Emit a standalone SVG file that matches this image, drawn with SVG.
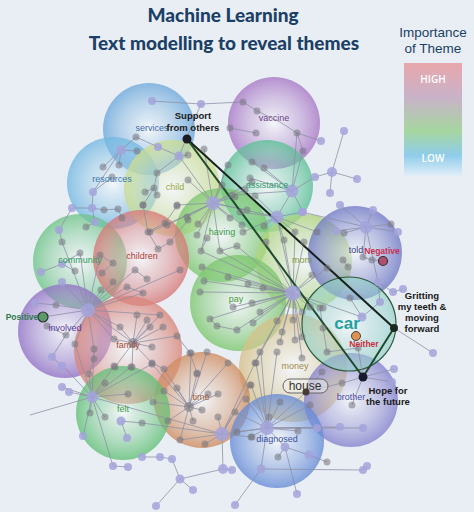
<svg xmlns="http://www.w3.org/2000/svg" width="474" height="512" viewBox="0 0 474 512">
<style>
.ttl{font-family:Lato,"Open Sans","Liberation Sans",sans-serif;font-weight:900;fill:#1b3f66;text-anchor:middle}
.leg{font-family:"Liberation Sans",Arial,sans-serif;fill:#1b3f66;text-anchor:middle;font-size:13.5px}
.legw{font-family:"Open Sans","Liberation Sans",sans-serif;fill:#ffffff;text-anchor:middle;font-size:10px;font-weight:600}
.lb{font-family:"Liberation Sans",Arial,sans-serif;font-size:9px;text-anchor:middle}
.ann{font-family:"Liberation Sans",Arial,sans-serif;font-size:9.5px;font-weight:700;fill:#1a1a1a;text-anchor:middle}
.edge{stroke:#8b8ea3;stroke-width:0.9;fill:none;opacity:0.85}
.g{fill:#74747e;opacity:0.55}
.l{fill:#a3a3da;opacity:0.85}
.bub{stroke:none}
</style>
<defs>
<radialGradient id="gBlue"><stop offset="0" stop-color="#fff" stop-opacity="0.5"/><stop offset="0.55" stop-color="#7db4e0" stop-opacity="0.42"/><stop offset="1" stop-color="#6fa9dc" stop-opacity="0.8"/></radialGradient>
<radialGradient id="gLBlue"><stop offset="0" stop-color="#fff" stop-opacity="0.5"/><stop offset="0.55" stop-color="#82c0e4" stop-opacity="0.42"/><stop offset="1" stop-color="#74b8e2" stop-opacity="0.8"/></radialGradient>
<radialGradient id="gPurple"><stop offset="0" stop-color="#fff" stop-opacity="0.5"/><stop offset="0.55" stop-color="#b287cc" stop-opacity="0.42"/><stop offset="1" stop-color="#a878c6" stop-opacity="0.8"/></radialGradient>
<radialGradient id="gYGreen"><stop offset="0" stop-color="#fff" stop-opacity="0.5"/><stop offset="0.55" stop-color="#d4e4a0" stop-opacity="0.45"/><stop offset="1" stop-color="#c9dc90" stop-opacity="0.8"/></radialGradient>
<radialGradient id="gTeal"><stop offset="0" stop-color="#fff" stop-opacity="0.5"/><stop offset="0.55" stop-color="#6ccaa2" stop-opacity="0.42"/><stop offset="1" stop-color="#5cc196" stop-opacity="0.8"/></radialGradient>
<radialGradient id="gGreen"><stop offset="0" stop-color="#fff" stop-opacity="0.5"/><stop offset="0.55" stop-color="#8ccf7f" stop-opacity="0.45"/><stop offset="1" stop-color="#7cc76e" stop-opacity="0.8"/></radialGradient>
<radialGradient id="gCGreen"><stop offset="0" stop-color="#fff" stop-opacity="0.5"/><stop offset="0.55" stop-color="#7fcc95" stop-opacity="0.42"/><stop offset="1" stop-color="#6fc488" stop-opacity="0.8"/></radialGradient>
<radialGradient id="gRed"><stop offset="0" stop-color="#fff" stop-opacity="0.5"/><stop offset="0.55" stop-color="#de8a8a" stop-opacity="0.42"/><stop offset="1" stop-color="#d77878" stop-opacity="0.8"/></radialGradient>
<radialGradient id="gMGreen"><stop offset="0" stop-color="#fff" stop-opacity="0.5"/><stop offset="0.55" stop-color="#bcdc8e" stop-opacity="0.45"/><stop offset="1" stop-color="#b0d47e" stop-opacity="0.8"/></radialGradient>
<radialGradient id="gIndigo"><stop offset="0" stop-color="#fff" stop-opacity="0.5"/><stop offset="0.55" stop-color="#8088cc" stop-opacity="0.42"/><stop offset="1" stop-color="#727ac6" stop-opacity="0.8"/></radialGradient>
<radialGradient id="gCar"><stop offset="0" stop-color="#fff" stop-opacity="0.55"/><stop offset="0.55" stop-color="#9fd6cf" stop-opacity="0.4"/><stop offset="1" stop-color="#8fcfc5" stop-opacity="0.65"/></radialGradient>
<radialGradient id="gViolet"><stop offset="0" stop-color="#fff" stop-opacity="0.5"/><stop offset="0.55" stop-color="#9e80cc" stop-opacity="0.42"/><stop offset="1" stop-color="#9272c6" stop-opacity="0.8"/></radialGradient>
<radialGradient id="gSalmon"><stop offset="0" stop-color="#fff" stop-opacity="0.5"/><stop offset="0.55" stop-color="#e0958a" stop-opacity="0.42"/><stop offset="1" stop-color="#d9857a" stop-opacity="0.8"/></radialGradient>
<radialGradient id="gBeige"><stop offset="0" stop-color="#fff" stop-opacity="0.5"/><stop offset="0.55" stop-color="#dfcc98" stop-opacity="0.45"/><stop offset="1" stop-color="#d6c088" stop-opacity="0.8"/></radialGradient>
<radialGradient id="gOrange"><stop offset="0" stop-color="#fff" stop-opacity="0.5"/><stop offset="0.55" stop-color="#d89b72" stop-opacity="0.42"/><stop offset="1" stop-color="#cf8c60" stop-opacity="0.8"/></radialGradient>
<radialGradient id="gFGreen"><stop offset="0" stop-color="#fff" stop-opacity="0.5"/><stop offset="0.55" stop-color="#72c986" stop-opacity="0.42"/><stop offset="1" stop-color="#62c078" stop-opacity="0.8"/></radialGradient>
<radialGradient id="gBrother"><stop offset="0" stop-color="#fff" stop-opacity="0.5"/><stop offset="0.55" stop-color="#9491d4" stop-opacity="0.42"/><stop offset="1" stop-color="#8682ce" stop-opacity="0.8"/></radialGradient>
<radialGradient id="gDBlue"><stop offset="0" stop-color="#fff" stop-opacity="0.5"/><stop offset="0.55" stop-color="#7599dc" stop-opacity="0.42"/><stop offset="1" stop-color="#668cd6" stop-opacity="0.8"/></radialGradient>
<linearGradient id="legGrad" x1="0" y1="0" x2="0" y2="1">
<stop offset="0" stop-color="#e8a7ab"/><stop offset="0.3" stop-color="#c9b2c9"/><stop offset="0.6" stop-color="#a6d6a0"/><stop offset="0.82" stop-color="#8fcdeb"/><stop offset="1" stop-color="#e2eef8"/>
</linearGradient>
</defs>
<rect width="474" height="512" fill="#e9eef4"/>
<text class="ttl" x="223" y="22" font-size="19">Machine Learning</text>
<text class="ttl" x="224" y="50" font-size="19">Text modelling to reveal themes</text>
<g id="legend">
<text class="leg" x="433" y="37">Importance</text>
<text class="leg" x="433" y="53">of Theme</text>
<rect x="404" y="63" width="58" height="113" fill="url(#legGrad)"/>
<text class="legw" x="433" y="83">HIGH</text>
<text class="legw" x="433" y="162">LOW</text>
</g>
<g id="themes">
<g id="t-services"><circle class="bub" cx="149" cy="129" r="46" fill="url(#gBlue)"/></g>
<g id="t-vaccine"><circle class="bub" cx="274" cy="123" r="46" fill="url(#gPurple)"/></g>
<g id="t-resources"><circle class="bub" cx="113" cy="183" r="46" fill="url(#gLBlue)"/></g>
<g id="t-child"><circle class="bub" cx="172" cy="188" r="48" fill="url(#gYGreen)"/></g>
<g id="t-assistance"><circle class="bub" cx="267" cy="186" r="46" fill="url(#gTeal)"/></g>
<g id="t-having"><circle class="bub" cx="222" cy="235" r="47" fill="url(#gGreen)"/></g>
<g id="t-community"><circle class="bub" cx="80" cy="261" r="47" fill="url(#gCGreen)"/></g>
<g id="t-children"><circle class="bub" cx="141" cy="258" r="48" fill="url(#gRed)"/></g>
<g id="t-mom"><circle class="bub" cx="304" cy="262" r="48" fill="url(#gMGreen)"/></g>
<g id="t-told"><circle class="bub" cx="355" cy="253" r="47" fill="url(#gIndigo)"/></g>
<g id="t-pay"><circle class="bub" cx="238" cy="303" r="48" fill="url(#gGreen)"/></g>
<g id="t-involved"><circle class="bub" cx="65" cy="331" r="47" fill="url(#gViolet)"/></g>
<g id="t-family"><circle class="bub" cx="128" cy="350" r="54" fill="url(#gSalmon)"/></g>
<g id="t-money"><circle class="bub" cx="293" cy="368" r="54" fill="url(#gBeige)"/></g>
<g id="t-time"><circle class="bub" cx="202" cy="400" r="48" fill="url(#gOrange)"/></g>
<g id="t-felt"><circle class="bub" cx="123" cy="413" r="47" fill="url(#gFGreen)"/></g>
<g id="t-brother"><circle class="bub" cx="351" cy="400" r="47" fill="url(#gBrother)"/></g>
<g id="t-diagnosed"><circle class="bub" cx="277" cy="441" r="47" fill="url(#gDBlue)"/></g>
<g id="t-car"><circle cx="349" cy="324" r="47" fill="url(#gCar)" stroke="#2f5a3c" stroke-width="1.2"/></g>
</g>
<g id="connectors">
<path class="edge" d="M152,101L201,104L243,102L257,111L280,122L297,133L321,141 M230,128L256,133 M297,133L303,151 M297,133L292,191 M201,104L179,156 M344,131L332,172L357,179 M332,172L330,193 M332,172L315,177L292,191
M292,191L277,217 M292,191L303,151 M292,191L252,162 M292,191L264,168 M292,191L232,195 M292,191L250,178 M292,191L303,212
M277,217L240,212 M277,217L255,196 M277,217L264,226 M277,217L284,240 M277,217L295,232 M277,217L317,232 M277,217L243,232 M277,217L302,212 M277,217L213,203
M121,150L136,137 M121,150L137,151 M121,150L103,167 M121,150L119,165 M121,150L93,192 M136,137L158,147L179,156L188,155 M179,156L157,173L154,188L145,192 M154,188L143,205 M154,188L157,195 M112,177L93,192L92,208L72,208 M92,208L104,210L118,209L122,218 M92,208L95,222L86,227 M72,208L59,230
M213,203L188,180 M213,203L177,205 M213,203L187,217 M213,203L198,224 M213,203L228,165 M213,203L222,185 M213,203L235,197 M213,203L245,190 M213,203L247,210 M213,203L242,225 M213,203L230,218 M213,203L197,235 M213,203L204,149 M213,203L167,225 M213,203L252,182 M213,203L220,251 M213,203L201,251 M213,203L179,156 M213,203L150,232
M59,230L62,242L88,310 M88,310L80,253 M88,310L62,282 M88,310L100,255 M88,310L113,282 M88,310L101,290 M88,310L143,293 M88,310L135,270 M88,310L56,305 M88,310L43,317 M88,310L66,335 M88,310L94,349 M88,310L114,339 M88,310L133,343 M88,310L160,315 M88,310L75,344 M88,310L120,327 M88,310L127,287 M88,310L180,270
M62,264L75,271 M62,264L41,272 M62,264L80,253 M100,255L113,263L102,273 M135,270L147,279 M143,293L127,287 M143,205L148,232L165,223L177,206 M148,232L158,249L170,242L188,220 M35,303L56,305 M47,326L66,335L52,357L62,366 M94,349L94,359L89,374
M133,343L120,327 M133,343L137,315 M133,343L147,320 M133,343L160,315 M133,343L163,327 M133,343L150,327 M133,343L152,347 M133,343L177,336 M133,343L114,339 M133,343L115,367 M133,343L132,367 M133,343L152,363L164,369 M177,336L190,353L197,373
M92,397L75,344 M92,397L94,350 M92,397L89,375 M92,397L105,383 M92,397L114,366 M92,397L131,367 M92,397L128,394 M92,397L90,413 M92,397L105,417 M92,397L62,387 M92,397L69,392 M92,397L62,365 M92,397L83,436 M92,397L113,466 M92,397L222,434 M92,397L30,415 M92,397L152,364
M121,421L142,423 M121,421L127,438 M113,466L128,467 M142,457L160,457L172,459L180,479L193,490 M180,479L156,506 M180,479L223,469L232,470 M223,469L222,434
M189,407L152,364 M189,407L164,369 M189,407L191,353 M189,407L207,352 M189,407L197,374 M189,407L177,388 M189,407L208,394 M189,407L218,394 M189,407L202,410 M189,407L193,421 M189,407L168,421 M189,407L180,440 M189,407L153,402 M189,407L164,391 M189,407L228,363
M222,434L205,444 M222,434L235,412 M222,434L218,417 M222,434L250,385 M222,434L260,352 M222,434L267,428 M222,434L252,437 M222,434L180,440 M222,434L142,423
M267,428L237,432 M267,428L251,437 M267,428L285,447 M267,428L298,431 M267,428L317,428 M267,428L340,427 M267,428L363,428 M267,428L261,469 M267,428L269,417 M267,428L280,402 M267,428L251,385 M267,428L246,399 M267,428L235,412 M267,428L256,363 M267,428L261,352 M267,428L277,352 M267,428L306,392 M267,428L310,405
M285,447L278,457 M285,447L309,455L327,462 M261,469L363,470L367,466 M261,469L235,505 M285,447L297,494 M306,392L342,383 M306,392L322,372
M363,377L394,369 M363,377L392,382 M363,377L342,383 M363,377L358,348 M363,377L352,405
M293,293L277,217 M293,293L284,240 M293,293L266,242 M293,293L237,246 M293,293L220,251 M293,293L201,251 M293,293L202,267 M293,293L204,281 M293,293L200,292 M293,293L228,277 M293,293L248,284 M293,293L263,288 M293,293L252,303 M293,293L233,307 M293,293L260,312 M293,293L210,319 M293,293L237,330 M293,293L253,323 M293,293L277,321 M293,293L282,332 M293,293L293,320 M293,293L302,312 M293,293L310,307 M293,293L323,308 M293,293L312,275 M293,293L327,268 M293,293L304,242 M293,293L295,232 M293,293L260,352 M293,293L280,342 M293,293L295,340 M293,293L302,337 M293,293L255,363 M293,293L302,358 M293,293L362,317
M210,319L217,326L237,330 M201,251L207,238 M220,251L237,246
M366,227L340,205 M366,227L373,210 M366,227L391,224 M366,227L398,232 M366,227L344,233 M366,227L336,231 M366,227L363,257 M366,227L302,212 M366,227L378,282
M343,260L348,267 M363,257L372,260L383,261 M378,282L393,292L403,289 M378,282L380,302L362,317L350,298 M320,308L323,328L327,352L358,348 M394,328L433,353"/>
<path d="M187,139L394,328" stroke="#16201a" stroke-width="2" fill="none"/>
<path d="M187,139L363,377" stroke="#1f4a2c" stroke-width="2" fill="none"/>
<path d="M394,328L363,377" stroke="#1f4a2c" stroke-width="2" fill="none"/>
</g>
<g id="graph-dots">
<circle class="l" cx="152" cy="101" r="4"/><circle class="l" cx="201" cy="104" r="4"/><circle class="g" cx="243" cy="102" r="3.5"/><circle class="g" cx="257" cy="111" r="3.5"/><circle class="g" cx="297" cy="133" r="3.5"/><circle class="l" cx="321" cy="141" r="4"/><circle class="g" cx="230" cy="128" r="3.5"/><circle class="g" cx="256" cy="133" r="3.5"/><circle class="g" cx="303" cy="151" r="3.5"/>
<circle class="l" cx="344" cy="131" r="4"/><circle class="l" cx="332" cy="172" r="5"/><circle class="l" cx="357" cy="179" r="4"/><circle class="l" cx="330" cy="193" r="4"/><circle class="l" cx="315" cy="177" r="4"/>
<circle class="l" cx="292" cy="191" r="6.5"/><circle class="l" cx="277" cy="217" r="6.5"/><circle class="g" cx="252" cy="162" r="3.5"/><circle class="g" cx="264" cy="168" r="3.5"/><circle class="g" cx="232" cy="195" r="3.5"/><circle class="g" cx="250" cy="178" r="3.5"/><circle class="l" cx="303" cy="212" r="4"/>
<circle class="g" cx="240" cy="212" r="3.5"/><circle class="g" cx="255" cy="196" r="3.5"/><circle class="g" cx="264" cy="226" r="3.5"/><circle class="g" cx="284" cy="240" r="3.5"/><circle class="g" cx="295" cy="232" r="3.5"/><circle class="g" cx="317" cy="232" r="3.5"/><circle class="g" cx="243" cy="232" r="3.5"/><circle class="l" cx="302" cy="212" r="4"/>
<circle class="l" cx="121" cy="150" r="5"/><circle class="g" cx="136" cy="137" r="3.5"/><circle class="g" cx="137" cy="151" r="3.5"/><circle class="g" cx="103" cy="167" r="3.5"/><circle class="g" cx="119" cy="165" r="3.5"/><circle class="l" cx="158" cy="147" r="4"/><circle class="l" cx="179" cy="156" r="4.5"/><circle class="g" cx="188" cy="155" r="3.5"/><circle class="g" cx="157" cy="173" r="3.5"/><circle class="g" cx="154" cy="188" r="3.5"/><circle class="g" cx="145" cy="192" r="3.5"/><circle class="g" cx="143" cy="205" r="3.5"/><circle class="g" cx="157" cy="195" r="3.5"/><circle class="g" cx="112" cy="177" r="3.5"/><circle class="l" cx="93" cy="192" r="4"/><circle class="l" cx="92" cy="208" r="4"/><circle class="l" cx="72" cy="208" r="4"/><circle class="g" cx="104" cy="210" r="3.5"/><circle class="g" cx="118" cy="209" r="3.5"/><circle class="g" cx="122" cy="218" r="3.5"/><circle class="l" cx="95" cy="222" r="4"/><circle class="g" cx="86" cy="227" r="3.5"/>
<circle class="l" cx="213" cy="203" r="7"/><circle class="g" cx="188" cy="180" r="3.5"/><circle class="g" cx="177" cy="205" r="3.5"/><circle class="g" cx="187" cy="217" r="3.5"/><circle class="g" cx="198" cy="224" r="3.5"/><circle class="g" cx="228" cy="165" r="3.5"/><circle class="g" cx="222" cy="185" r="3.5"/><circle class="g" cx="235" cy="197" r="3.5"/><circle class="g" cx="245" cy="190" r="3.5"/><circle class="g" cx="247" cy="210" r="3.5"/><circle class="g" cx="242" cy="225" r="3.5"/><circle class="g" cx="230" cy="218" r="3.5"/><circle class="g" cx="197" cy="235" r="3.5"/><circle class="g" cx="204" cy="149" r="3.5"/><circle class="g" cx="167" cy="225" r="3.5"/><circle class="g" cx="252" cy="182" r="3.5"/><circle class="g" cx="220" cy="251" r="3.5"/><circle class="g" cx="201" cy="251" r="3.5"/><circle class="g" cx="150" cy="232" r="3.5"/>
<circle class="l" cx="59" cy="230" r="4"/><circle class="g" cx="62" cy="242" r="3.5"/><circle class="g" cx="80" cy="253" r="3.5"/><circle class="l" cx="62" cy="264" r="4"/><circle class="g" cx="75" cy="271" r="3.5"/><circle class="l" cx="41" cy="272" r="4"/><circle class="l" cx="62" cy="282" r="4"/><circle class="g" cx="100" cy="255" r="3.5"/><circle class="g" cx="113" cy="263" r="3.5"/><circle class="g" cx="102" cy="273" r="3.5"/><circle class="g" cx="113" cy="282" r="3.5"/><circle class="g" cx="101" cy="290" r="3.5"/><circle class="g" cx="135" cy="270" r="3.5"/><circle class="g" cx="147" cy="279" r="3.5"/><circle class="g" cx="127" cy="287" r="3.5"/><circle class="g" cx="143" cy="293" r="3.5"/><circle class="g" cx="143" cy="205" r="3.5"/><circle class="g" cx="148" cy="232" r="3.5"/><circle class="g" cx="165" cy="223" r="3.5"/><circle class="g" cx="158" cy="249" r="3.5"/><circle class="g" cx="170" cy="242" r="3.5"/><circle class="g" cx="177" cy="206" r="3.5"/><circle class="g" cx="188" cy="220" r="3.5"/><circle class="g" cx="180" cy="270" r="3.5"/>
<circle class="l" cx="88" cy="310" r="7"/><circle class="l" cx="35" cy="303" r="4"/><circle class="g" cx="56" cy="305" r="3.5"/><circle class="g" cx="47" cy="326" r="3.5"/><circle class="g" cx="66" cy="335" r="3.5"/><circle class="l" cx="52" cy="357" r="4"/><circle class="l" cx="62" cy="366" r="4"/><circle class="g" cx="75" cy="344" r="3.5"/><circle class="g" cx="94" cy="349" r="3.5"/><circle class="g" cx="94" cy="359" r="3.5"/><circle class="g" cx="89" cy="374" r="3.5"/>
<circle class="g" cx="133" cy="343" r="5"/><circle class="g" cx="114" cy="339" r="3.5"/><circle class="g" cx="120" cy="327" r="3.5"/><circle class="g" cx="137" cy="315" r="3.5"/><circle class="g" cx="147" cy="320" r="3.5"/><circle class="g" cx="160" cy="315" r="3.5"/><circle class="g" cx="163" cy="327" r="3.5"/><circle class="g" cx="150" cy="327" r="3.5"/><circle class="g" cx="152" cy="347" r="3.5"/><circle class="g" cx="177" cy="336" r="3.5"/><circle class="g" cx="115" cy="367" r="3.5"/><circle class="g" cx="132" cy="367" r="3.5"/><circle class="g" cx="152" cy="363" r="3.5"/><circle class="g" cx="164" cy="369" r="3.5"/><circle class="g" cx="190" cy="353" r="3.5"/><circle class="g" cx="197" cy="373" r="3.5"/>
<circle class="l" cx="92" cy="397" r="6"/><circle class="g" cx="105" cy="383" r="3.5"/><circle class="g" cx="114" cy="366" r="3.5"/><circle class="g" cx="131" cy="367" r="3.5"/><circle class="g" cx="128" cy="394" r="3.5"/><circle class="g" cx="90" cy="413" r="3.5"/><circle class="g" cx="105" cy="417" r="3.5"/><circle class="l" cx="62" cy="387" r="4"/><circle class="l" cx="69" cy="392" r="4"/><circle class="l" cx="83" cy="436" r="4"/><circle class="l" cx="121" cy="421" r="4.5"/><circle class="l" cx="127" cy="438" r="4"/><circle class="g" cx="142" cy="423" r="3.5"/><circle class="l" cx="113" cy="466" r="4"/><circle class="l" cx="128" cy="467" r="4"/><circle class="l" cx="142" cy="457" r="4"/><circle class="l" cx="160" cy="457" r="4"/><circle class="l" cx="172" cy="459" r="4"/><circle class="l" cx="180" cy="479" r="4.5"/><circle class="l" cx="193" cy="490" r="4"/><circle class="l" cx="156" cy="506" r="4"/><circle class="l" cx="223" cy="469" r="5"/><circle class="l" cx="232" cy="470" r="4"/>
<circle class="g" cx="189" cy="407" r="5"/><circle class="g" cx="152" cy="364" r="3.5"/><circle class="g" cx="191" cy="353" r="3.5"/><circle class="g" cx="207" cy="352" r="3.5"/><circle class="g" cx="197" cy="374" r="3.5"/><circle class="g" cx="177" cy="388" r="3.5"/><circle class="g" cx="208" cy="394" r="3.5"/><circle class="g" cx="218" cy="394" r="3.5"/><circle class="g" cx="202" cy="410" r="3.5"/><circle class="g" cx="193" cy="421" r="3.5"/><circle class="g" cx="168" cy="421" r="3.5"/><circle class="g" cx="180" cy="440" r="3.5"/><circle class="g" cx="153" cy="402" r="3.5"/><circle class="g" cx="164" cy="391" r="3.5"/><circle class="g" cx="228" cy="363" r="3.5"/>
<circle class="l" cx="222" cy="434" r="7"/><circle class="g" cx="205" cy="444" r="3.5"/><circle class="g" cx="235" cy="412" r="3.5"/><circle class="g" cx="218" cy="417" r="3.5"/><circle class="g" cx="250" cy="385" r="3.5"/><circle class="g" cx="260" cy="352" r="3.5"/><circle class="g" cx="252" cy="437" r="3.5"/>
<circle class="l" cx="267" cy="428" r="7"/><circle class="g" cx="237" cy="432" r="3.5"/><circle class="g" cx="251" cy="437" r="3.5"/><circle class="l" cx="285" cy="447" r="4.5"/><circle class="g" cx="298" cy="431" r="3.5"/><circle class="l" cx="317" cy="428" r="4"/><circle class="l" cx="340" cy="427" r="4"/><circle class="l" cx="363" cy="428" r="4"/><circle class="l" cx="261" cy="469" r="4.5"/><circle class="g" cx="269" cy="417" r="3.5"/><circle class="g" cx="280" cy="402" r="3.5"/><circle class="g" cx="251" cy="385" r="3.5"/><circle class="g" cx="246" cy="399" r="3.5"/><circle class="g" cx="256" cy="363" r="3.5"/><circle class="g" cx="277" cy="352" r="3.5"/><circle class="g" cx="310" cy="405" r="3.5"/><circle class="g" cx="278" cy="457" r="3.5"/><circle class="l" cx="309" cy="455" r="4.5"/><circle class="g" cx="327" cy="462" r="3.5"/><circle class="l" cx="363" cy="470" r="4"/><circle class="l" cx="367" cy="466" r="4"/><circle class="l" cx="235" cy="505" r="4"/><circle class="l" cx="297" cy="494" r="4"/><circle class="g" cx="342" cy="383" r="3.5"/><circle class="g" cx="322" cy="372" r="3.5"/><circle class="l" cx="394" cy="369" r="4"/><circle class="l" cx="392" cy="382" r="4"/><circle class="g" cx="358" cy="348" r="3.5"/><circle class="g" cx="352" cy="405" r="3.5"/>
<circle class="l" cx="293" cy="293" r="7.5"/><circle class="g" cx="266" cy="242" r="3.5"/><circle class="g" cx="237" cy="246" r="3.5"/><circle class="g" cx="207" cy="238" r="3.5"/><circle class="g" cx="202" cy="267" r="3.5"/><circle class="g" cx="204" cy="281" r="3.5"/><circle class="g" cx="200" cy="292" r="3.5"/><circle class="g" cx="228" cy="277" r="3.5"/><circle class="g" cx="248" cy="284" r="3.5"/><circle class="g" cx="263" cy="288" r="3.5"/><circle class="g" cx="252" cy="303" r="3.5"/><circle class="g" cx="233" cy="307" r="3.5"/><circle class="g" cx="260" cy="312" r="3.5"/><circle class="g" cx="210" cy="319" r="3.5"/><circle class="g" cx="217" cy="326" r="3.5"/><circle class="g" cx="237" cy="330" r="3.5"/><circle class="g" cx="253" cy="323" r="3.5"/><circle class="g" cx="277" cy="321" r="3.5"/><circle class="g" cx="282" cy="332" r="3.5"/><circle class="g" cx="293" cy="320" r="3.5"/><circle class="g" cx="302" cy="312" r="3.5"/><circle class="g" cx="310" cy="307" r="3.5"/><circle class="g" cx="323" cy="308" r="3.5"/><circle class="g" cx="312" cy="275" r="3.5"/><circle class="g" cx="327" cy="268" r="3.5"/><circle class="g" cx="304" cy="242" r="3.5"/><circle class="g" cx="280" cy="342" r="3.5"/><circle class="g" cx="295" cy="340" r="3.5"/><circle class="g" cx="302" cy="337" r="3.5"/><circle class="g" cx="255" cy="363" r="3.5"/><circle class="g" cx="302" cy="358" r="3.5"/><circle class="l" cx="362" cy="317" r="4.5"/>
<circle class="l" cx="366" cy="227" r="6.5"/><circle class="l" cx="340" cy="205" r="4"/><circle class="l" cx="373" cy="210" r="4"/><circle class="g" cx="391" cy="224" r="3.5"/><circle class="l" cx="398" cy="232" r="4"/><circle class="g" cx="344" cy="233" r="3.5"/><circle class="l" cx="336" cy="231" r="4"/><circle class="g" cx="363" cy="257" r="3.5"/><circle class="g" cx="343" cy="260" r="3.5"/><circle class="g" cx="348" cy="267" r="3.5"/><circle class="g" cx="372" cy="260" r="3.5"/><circle class="l" cx="378" cy="282" r="4"/><circle class="l" cx="393" cy="292" r="4"/><circle class="l" cx="403" cy="289" r="4"/><circle class="l" cx="380" cy="302" r="4"/><circle class="g" cx="350" cy="298" r="3.5"/><circle class="g" cx="320" cy="308" r="3.5"/><circle class="g" cx="323" cy="328" r="3.5"/><circle class="g" cx="327" cy="352" r="3.5"/><circle class="l" cx="433" cy="353" r="4"/>
</g>
<g id="theme-labels">
<text class="lb" x="152" y="131" fill="#3f6aa8">services</text>
<text class="lb" x="274" y="121" fill="#6a3f8a">vaccine</text>
<text class="lb" x="112" y="182" fill="#3a78b0">resources</text>
<text class="lb" x="175" y="190" fill="#9aa83a">child</text>
<text class="lb" x="267" y="188" fill="#2e9a6a">assistance</text>
<text class="lb" x="222" y="235" fill="#3a9a4a">having</text>
<text class="lb" x="80" y="263" fill="#2e9a5a">community</text>
<text class="lb" x="142" y="259" fill="#b03a3a">children</text>
<text class="lb" x="302" y="263" fill="#7a9a3a">mom</text>
<text class="lb" x="356" y="253" fill="#3a3f8a">told</text>
<text class="lb" x="236" y="302" fill="#4a9a3a">pay</text>
<text class="lb" x="65" y="331" fill="#5a3a9a">involved</text>
<text class="lb" x="128" y="348" fill="#a04a3a">family</text>
<text class="lb" x="295" y="369" fill="#a08a4a">money</text>
<text class="lb" x="201" y="400" fill="#a0603a">time</text>
<text class="lb" x="123" y="412" fill="#3aa04a">felt</text>
<text class="lb" x="351" y="400" fill="#4a4aa0">brother</text>
<text class="lb" x="277" y="442" fill="#3a50a0">diagnosed</text>
<text x="347" y="329" font-family="'Liberation Sans',Arial,sans-serif" font-size="17" font-weight="700" fill="#22a0a0" text-anchor="middle">car</text>
<g id="house"><rect x="283" y="379" width="45" height="14" rx="7" fill="#f2f0ea" fill-opacity="0.5" stroke="#666" stroke-width="1"/>
<text x="305" y="390" font-family="'Liberation Sans',Arial,sans-serif" font-size="12" fill="#333" text-anchor="middle">house</text>
<circle cx="306" cy="392" r="3.5" fill="#4a3a34"/></g>
</g>
<g id="sentiment">
<g id="positive"><circle cx="43" cy="317" r="5" fill="#5a9a6a" stroke="#333" stroke-width="1.2"/><text x="22" y="319.5" font-family="'Liberation Sans',Arial,sans-serif" font-size="8.5" font-weight="700" fill="#2e7a4e" text-anchor="middle">Positive</text></g>
<g id="negative"><circle cx="383" cy="261" r="4.5" fill="#b05070" stroke="#333" stroke-width="1.2"/><text x="382" y="253.5" font-family="'Liberation Sans',Arial,sans-serif" font-size="8.5" font-weight="700" fill="#c83050" text-anchor="middle">Negative</text></g>
<g id="neither"><circle cx="356" cy="336" r="4.5" fill="#e09050" stroke="#444" stroke-width="1"/><text x="364" y="347" font-family="'Liberation Sans',Arial,sans-serif" font-size="8.5" font-weight="700" fill="#c83040" text-anchor="middle">Neither</text></g>
</g>
<g id="annotations">
<g id="support"><circle cx="187" cy="139" r="4.5" fill="#1a1a22"/><text class="ann" x="193" y="119">Support</text><text class="ann" x="193" y="131">from others</text></g>
<g id="gritting"><circle cx="394" cy="328" r="4" fill="#1a2a20"/><text class="ann" x="422" y="299">Gritting</text><text class="ann" x="422" y="310">my teeth &amp;</text><text class="ann" x="422" y="321">moving</text><text class="ann" x="422" y="332">forward</text></g>
<g id="hope"><circle cx="363" cy="377" r="4.5" fill="#1a1a2e"/><text class="ann" x="388" y="394">Hope for</text><text class="ann" x="388" y="405">the future</text></g>
</g>
</svg>
